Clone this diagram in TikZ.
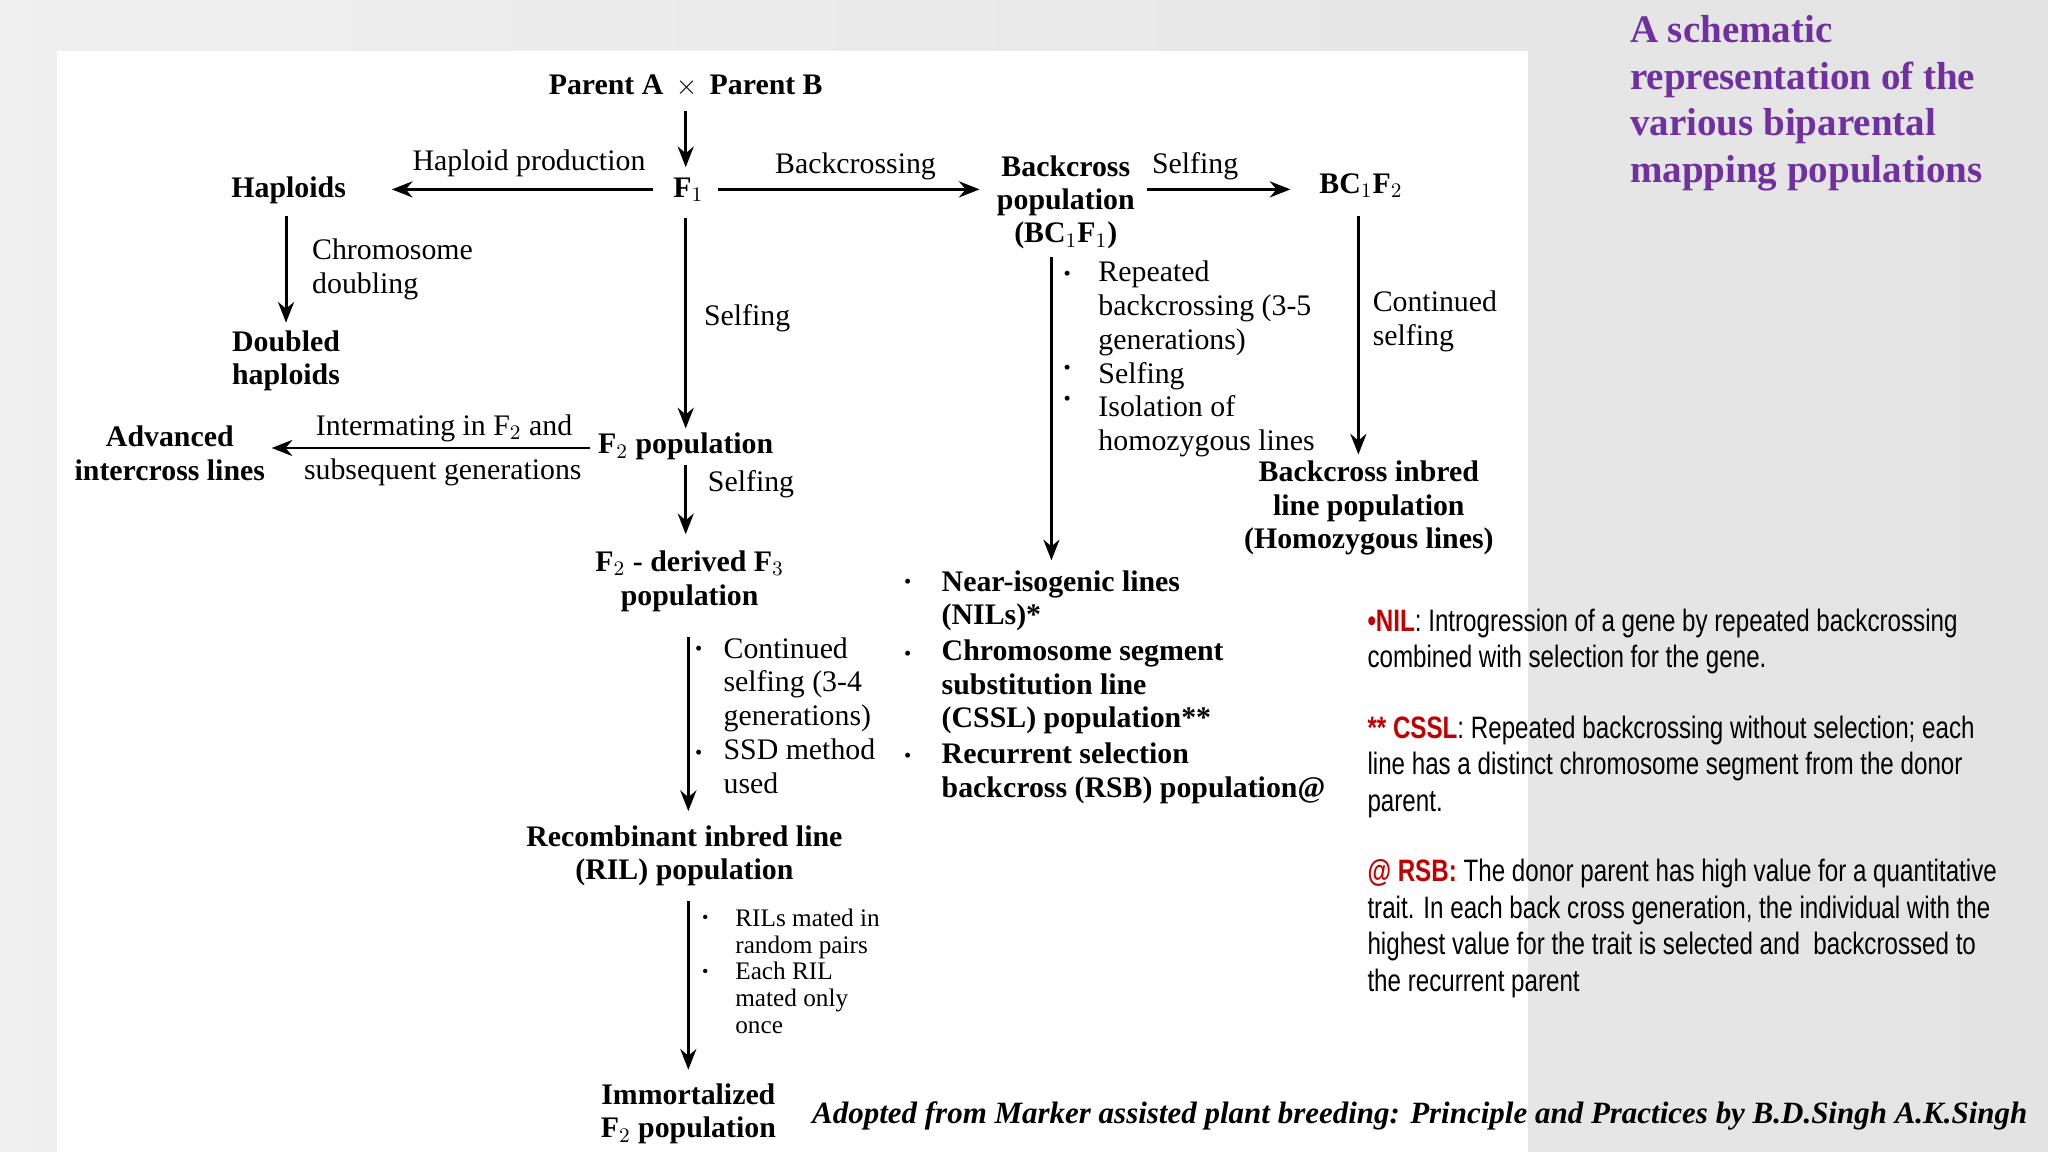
\documentclass[tikz,border=0pt]{standalone}
\usepackage{fontspec}
\setmainfont{Liberation Serif}
\newfontfamily\narrow{Liberation Sans}[FakeStretch=0.78]
\usetikzlibrary{arrows.meta}
\definecolor{ttl}{HTML}{7030A0}
\definecolor{nred}{HTML}{C00000}
\begin{document}
\begin{tikzpicture}[x=0.02cm,y=-0.02cm,
  every node/.style={inner sep=0pt,outer sep=0pt,font=\fontsize{13}{14.7}\selectfont},
  nd/.style={font=\fontsize{13}{14.5}\selectfont\bfseries,align=center},
  lb/.style={font=\fontsize{13}{14.7}\selectfont,align=left},
  bl/.style={font=\fontsize{13}{14.7}\selectfont,align=left,anchor=north west},
  sm/.style={font=\fontsize{11}{11.6}\selectfont,align=left,anchor=north west},
  ar/.style={-{Stealth[length=9pt,width=7pt]},line width=1.3pt},
  nt/.style={font=\narrow\fontsize{13.5}{15.9}\selectfont,align=left,anchor=north west}]
\useasboundingbox (0,0) rectangle (1568,882);
\shade[left color=gray!12,right color=gray!22] (0,0) rectangle (1568,882);
\fill[white] (44,39) rectangle (1170,882);
% nodes
\node[nd] (pa) at (525,66) {Parent A \,$\times$\, Parent B};
\node[nd] (f1) at (527,145) {F$_1$};
\node[nd] (hap) at (221,146) {Haploids};
\node[nd] (bc) at (816,155) {Backcross\\population\\(BC$_1$F$_1$)};
\node[nd] (bcf2) at (1042,142) {BC$_1$F$_2$};
\node[nd] (dh) at (219,276) {Doubled\\haploids};
\node[nd] (f2) at (525,342) {F$_2$ population};
\node[nd] (ail) at (130,347) {Advanced\\intercross lines};
\node[nd] (f3) at (528,445) {F$_2$ - derived F$_3$\\population};
\node[nd] (ril) at (524,655) {Recombinant inbred line\\(RIL) population};
\node[nd] (imm) at (527,853) {Immortalized\\F$_2$ population};
\node[nd] (bil) at (1048,389) {Backcross inbred\\line population\\(Homozygous lines)};
% arrows
\coordinate (c1) at (525,85); \coordinate (c2) at (525,128);
\draw[ar] (c1) -- (c2);
\coordinate (h1) at (500,145); \coordinate (h2) at (300,145);
\draw[ar] (h1) -- (h2);
\node[lb] (l1) at (405,125) {Haploid production};
\coordinate (b1) at (550,145); \coordinate (b2) at (750,145);
\draw[ar] (b1) -- (b2);
\node[lb] (l2) at (655,127) {Backcrossing};
\coordinate (s1) at (878,145); \coordinate (s2) at (988,145);
\draw[ar] (s1) -- (s2);
\node[lb] (l3) at (915,127) {Selfing};
\coordinate (d1) at (219,165); \coordinate (d2) at (219,247);
\draw[ar] (d1) -- (d2);
\node[lb,anchor=west] (l4) at (239,206) {Chromosome\\doubling};
\coordinate (e1) at (525,167); \coordinate (e2) at (525,328);
\draw[ar] (e1) -- (e2);
\node[lb] (l5) at (572,244) {Selfing};
\coordinate (g1) at (452,343); \coordinate (g2) at (208,343);
\draw[ar] (g1) -- (g2);
\node[lb] (l6) at (340,328) {Intermating in F$_2$ and};
\node[lb] (l7) at (339,362) {subsequent generations};
\coordinate (k1) at (525,356); \coordinate (k2) at (525,409);
\draw[ar] (k1) -- (k2);
\node[lb] (l8) at (575,371) {Selfing};
\coordinate (m1) at (527,488); \coordinate (m2) at (527,621);
\draw[ar] (m1) -- (m2);
\coordinate (n1) at (527,690); \coordinate (n2) at (527,819);
\draw[ar] (n1) -- (n2);
\coordinate (p1) at (805,197); \coordinate (p2) at (805,429);
\draw[ar] (p1) -- (p2);
\coordinate (q1) at (1040,165); \coordinate (q2) at (1040,348);
\draw[ar] (q1) -- (q2);
\node[lb,anchor=west] (l9) at (1051,246) {Continued\\selfing};
% bullet lists
\node[bl] (bl1) at (841,200) {Repeated\\backcrossing (3-5\\generations)\\Selfing\\Isolation of\\homozygous lines};
\foreach \y in {211,283,307} \node[font=\fontsize{9}{10}\selectfont] at (817,\y) {\textbullet};
\node[bl] (bl2) at (554,488) {Continued\\selfing (3-4\\generations)\\SSD method\\used};
\foreach \y in {498,578} \node[font=\fontsize{9}{10}\selectfont] at (535,\y) {\textbullet};
\node[sm] (bl3) at (563,696) {RILs mated in\\random pairs\\Each RIL\\mated only\\once};
\foreach \y in {704,745} \node[font=\fontsize{8}{9}\selectfont] at (540,\y) {\textbullet};
\node[bl,font=\fontsize{13}{14.6}\selectfont\bfseries] (bl4) at (721,437) {Near-isogenic lines\\(NILs)*\\[1pt]Chromosome segment\\substitution line\\(CSSL) population**\\[1pt]Recurrent selection\\backcross (RSB) population@};
\foreach \y in {447,502,580} \node[font=\fontsize{9}{10}\selectfont] at (695,\y) {\textbullet};
% title
\node[font=\fontsize{17}{20.3}\selectfont\bfseries,text=ttl,align=left,anchor=north west] (ttl) at (1248,12) {A schematic\\representation of the\\various biparental\\mapping populations};
% notes
\node[nt] (n1t) at (1047,466) {{\color{nred}\bfseries\textbullet NIL}: Introgression of a gene by repeated backcrossing\\combined with selection for the gene.};
\node[nt] (n2t) at (1047,548) {{\color{nred}\bfseries** CSSL}: Repeated backcrossing without selection; each\\line has a distinct chromosome segment from the donor\\parent.};
\node[nt] (n3t) at (1047,658) {{\color{nred}\bfseries@ RSB:} The donor parent has high value for a quantitative\\trait. In each back cross generation, the individual with the\\highest value for the trait is selected and\ \ backcrossed to\\the recurrent parent};
\node[font=\fontsize{13.5}{15}\selectfont\bfseries\itshape] (cap) at (1087,854) {Adopted from Marker assisted plant breeding: Principle and Practices by B.D.Singh A.K.Singh};
\end{tikzpicture}
\end{document}
